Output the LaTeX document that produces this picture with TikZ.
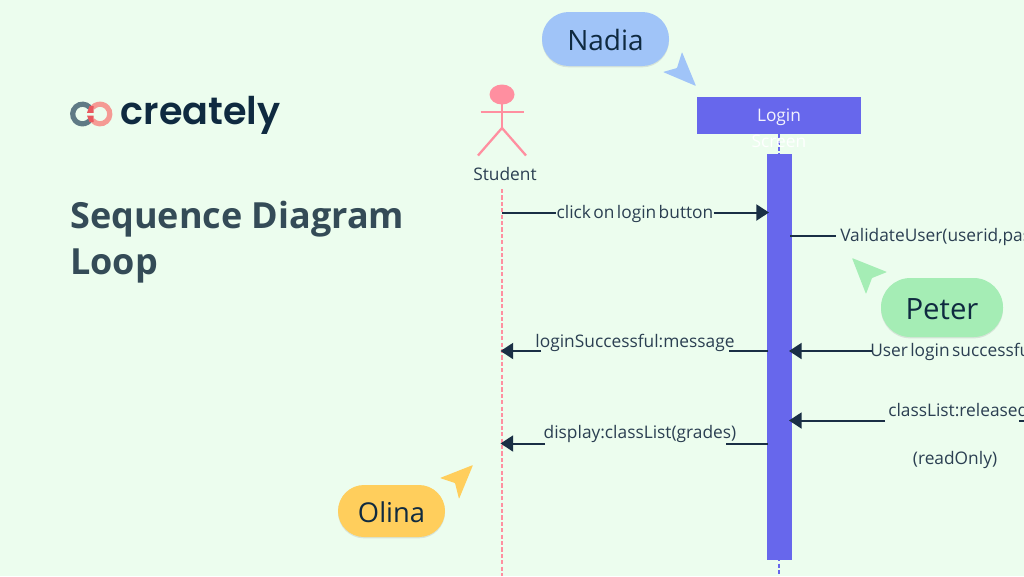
\documentclass[tikz,border=0pt]{standalone}
\usepackage{fontspec}
\setmainfont{Open Sans}
\newfontfamily\logofont{Poppins SemiBold}
\newcommand{\tightspacing}{\spaceskip=1.8pt\relax}
\usetikzlibrary{arrows.meta,shadows}
\definecolor{bgc}{HTML}{ECFDEE}
\definecolor{nadiac}{HTML}{A0C4F8}
\definecolor{peterc}{HTML}{A5EDB5}
\definecolor{olinac}{HTML}{FFCE5C}
\definecolor{barc}{HTML}{6767EC}
\definecolor{pinkc}{HTML}{FF8FA0}
\definecolor{darkc}{HTML}{1A2F45}
\definecolor{textc}{HTML}{2B3F52}
\definecolor{titlec}{HTML}{344B57}
\definecolor{logoc}{HTML}{0F2A40}
\definecolor{ringg}{HTML}{5F7A85}
\definecolor{ringp}{HTML}{F59A94}
\definecolor{ringr}{HTML}{E8595F}
\tikzset{
  x=0.75pt,y=-0.75pt,
  pill/.style={inner sep=0pt,text=logoc,text depth=0pt,font=\fontsize{21}{25}\selectfont,drop shadow={shadow xshift=0pt,shadow yshift=-1pt,opacity=.2}},
  msglabel/.style={inner sep=0pt,text=textc,font=\fontsize{13}{15}\selectfont},
  tightwords/.style={font=\fontsize{13}{15}\selectfont\tightspacing},
  msg/.style={draw=darkc,line width=1.5pt},
  msgarrow/.style={msg,-{Triangle[length=9.5pt,width=12pt]}},
  life/.style={line width=1.5pt,dash pattern=on 3.2pt off 1.6pt},
  actorline/.style={draw=pinkc,line width=1.7pt},
  ringline/.style={line width=3.9pt},
}
\begin{document}
\begin{tikzpicture}
\useasboundingbox (0,0) rectangle (1024,576);
\clip (0,0) rectangle (1024,576);
\fill[bgc] (0,0) rectangle (1024,576);

% logo
\draw[ringline,ringg] (82.5,114) +(-42:9.8) arc[start angle=-42,end angle=-318,radius=9.8];
\draw[ringline,ringp] (100,114) +(138:9.8) arc[start angle=-222,end angle=-498,radius=9.8];
\fill[ringr] (89.5,106) -- (93.5,106) -- (93.5,112.8) -- (87,112.8) -- cycle;
\fill[ringr] (87,115.5) -- (93.5,115.5) -- (93.5,122) -- (89.5,122) -- cycle;
\node[anchor=base west,inner sep=0pt,text=logoc,font=\logofont\fontsize{28.6}{34}\selectfont] (logo) at (120.5,124) {creately};

% title
\node[anchor=base west,inner sep=0pt,text=titlec,font=\fontsize{27}{30}\selectfont\bfseries] (title1) at (70,228) {Sequence Diagram};
\node[anchor=base west,inner sep=0pt,text=titlec,font=\fontsize{27}{30}\selectfont\bfseries] (title2) at (70,274) {Loop};

% actor
\fill[pinkc] (502,94.5) ellipse[x radius=12.5,y radius=10];
\draw[actorline] (502,104) coordinate (neck) -- (502,128) coordinate (hip);
\draw[actorline] (480.5,112) coordinate (armL) -- (523.5,112) coordinate (armR);
\draw[actorline] (478,155.5) coordinate (legL) -- (hip) -- (526,155.5) coordinate (legR);
\node[anchor=base,msglabel] (student) at (505,180) {Student};

% lifelines
\coordinate (sTop) at (502,189);
\coordinate (sBot) at (502,576);
\draw[life,pinkc] (sTop) -- (sBot);

\node[fill=barc,inner sep=0pt,minimum width=123pt,minimum height=28pt,anchor=north west] (loginbox) at (697,96.3) {};
\node[anchor=base,msglabel,text=white!92!barc] (logintxt) at (779,121.7) {Login};
\coordinate (barTop) at (779,154);
\coordinate (barBot) at (779,576);
\draw[life,barc] (loginbox.south -| barTop) -- (barTop);
\draw[life,barc] (barTop) -- (barBot);
\node[anchor=base,msglabel,text=white] (screentxt) at (779,147) {Screen};
\node[fill=barc,inner sep=0pt,minimum width=18.75pt,minimum height=304.5pt,anchor=north west] (bar) at (766.7,154) {};

% messages
\coordinate (s1) at (502,212.5);
\coordinate (b1) at (769,212.5);
\node[anchor=base,msglabel,tightwords] (m1) at (635,218) {click on login button};
\draw[msg] (s1) -- (s1 -| m1.west);
\draw[msgarrow] (s1 -| m1.east) -- (b1);

\coordinate (b2) at (790,235.5);
\coordinate (e2) at (836,235.5);
\node[anchor=base west,msglabel] (m2) at (840,241.7) {ValidateUser(userid,pas};
\draw[msg] (b2) -- (e2);

\coordinate (s3) at (500.5,351);
\coordinate (b3a) at (768,351);
\coordinate (g3a) at (541,351);
\coordinate (g3b) at (729,351);
\node[anchor=base,msglabel] (m3) at (635,347) {loginSuccessful:message};
\draw[msgarrow] (g3a) -- (s3);
\draw[msg] (b3a) -- (g3b);

\coordinate (b4) at (789,351);
\coordinate (e4) at (872,351);
\node[anchor=base west,msglabel,tightwords] (m4) at (870,356) {User login successfu};
\draw[msgarrow] (e4) -- (b4);

\coordinate (b5) at (789,420.5);
\coordinate (e5) at (885,420.5);
\coordinate (f5a) at (1019,420.5);
\coordinate (f5b) at (1024,420.5);
\node[anchor=base west,msglabel] (m5) at (888,416) {classList:released};
\draw[msgarrow] (e5) -- (b5);
\draw[msg] (f5a) -- (f5b);
\node[anchor=base,msglabel] (m5b) at (955,464) {(readOnly)};

\coordinate (s6) at (500.5,443.5);
\coordinate (b6) at (768,443.5);
\coordinate (g6a) at (545,443.5);
\coordinate (g6b) at (726,443.5);
\node[anchor=base,msglabel] (m6) at (640,438) {display:classList(grades)};
\draw[msgarrow] (g6a) -- (s6);
\draw[msg] (b6) -- (g6b);

% collaborators
\node[pill,fill=nadiac,rounded corners=20pt,minimum width=95.25pt,minimum height=40.5pt,text height=17.5pt] (nadia) at (605.5,39) {Nadia};
\fill[nadiac,rounded corners=0.5pt] (696,86) -- (682,52) -- (677,68) -- (663,72) -- cycle;

\node[pill,fill=peterc,rounded corners=22pt,minimum width=91.5pt,minimum height=44.25pt,font=\fontsize{22}{26}\selectfont,text height=18.7pt] (peter) at (942,307.5) {Peter};
\fill[peterc,rounded corners=0.5pt] (852,258) -- (887,272) -- (872,278) -- (866,294) -- cycle;

\node[pill,fill=olinac,rounded corners=19.5pt,minimum width=80.25pt,minimum height=39pt,font=\fontsize{20.5}{25}\selectfont,text height=17pt] (olina) at (391.5,511) {Olina};
\fill[olinac,rounded corners=0.5pt] (473,465) -- (440,478) -- (455,483) -- (459,499) -- cycle;
\end{tikzpicture}
\end{document}
